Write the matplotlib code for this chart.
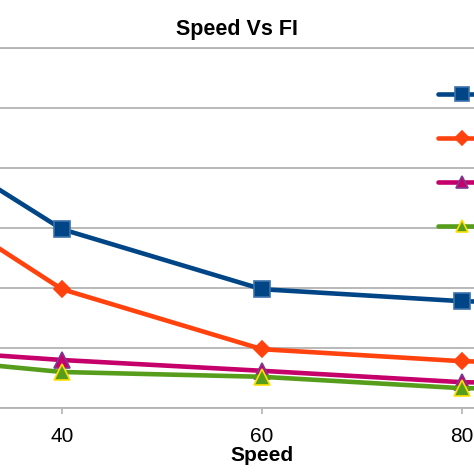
import matplotlib.pyplot as plt
from matplotlib.lines import Line2D

speed = [20, 40, 60, 80, 100]
fi_1 = [5.08, 2.98, 1.98, 1.78, 1.70]
fi_2 = [4.14, 1.98, 0.98, 0.78, 0.70]
fi_3 = [1.03, 0.80, 0.62, 0.43, 0.38]
fi_4 = [0.92, 0.60, 0.52, 0.33, 0.30]
shown_ticks = [40, 60, 80]

series = [
    (fi_1, "#004586", "s", 12, "#3d72ad"),
    (fi_2, "#ff420e", "D", 8.5, "#ff420e"),
    (fi_3, "#c5006b", "^", 11, "#7e3a8f"),
    (fi_4, "#579d1c", "^", 11, "#ffe000"),
]

W = 474
fig = plt.figure(figsize=(W / 100, W / 100), dpi=100)
plt.rcParams["font.family"] = ["Liberation Sans", "DejaVu Sans"]

# plot area is wider than the picture: speed 20 sits at x=-138px, 100 at x=662px
ax = fig.add_axes([-138 / W, 1 - 408 / W, 800 / W, 360 / W])

handles = []
for vals, col, mk, ms, edge in series:
    ax.plot(speed, vals, color=col, lw=3.3, marker=mk, ms=ms,
            mfc=col, mec=edge, mew=1.2, solid_capstyle="round", zorder=3)
    handles.append(Line2D([], [], color=col, lw=3.3, marker=mk, ms=ms * 0.85,
                          mfc=col, mec=edge, mew=1.2, solid_capstyle="round"))

ax.set_xlim(20, 100)
ax.set_ylim(0, 6)
ax.set_xticks(shown_ticks)
ax.set_yticks(range(0, 7))
ax.grid(axis="y", color="#b3b3b3", lw=1.3)
ax.set_axisbelow(True)
for side in ["left", "right"]:
    ax.spines[side].set_visible(False)
for side in ["bottom", "top"]:
    ax.spines[side].set_color("#b3b3b3")
    ax.spines[side].set_linewidth(1.3)
ax.tick_params(axis="x", colors="#b3b3b3", length=4, width=1.2,
               labelcolor="black", labelsize=15, pad=10)
ax.tick_params(axis="y", length=0, labelleft=False)
ax.set_xlabel("Speed", fontsize=15, fontweight="bold", labelpad=0)

fig.text(0.5, 1 - 29 / W, "Speed Vs FI", ha="center", va="center",
         fontsize=15.5, fontweight="bold")

ax.legend(handles, ["", "", "", ""], loc="upper left",
          bbox_to_anchor=((448 + 138) / 800 - 0.012, 1 - 40 / 360),
          frameon=False, handlelength=3.4, fontsize=10,
          labelspacing=2.15, borderaxespad=0, borderpad=0)

fig.savefig("out.png", dpi=100)
